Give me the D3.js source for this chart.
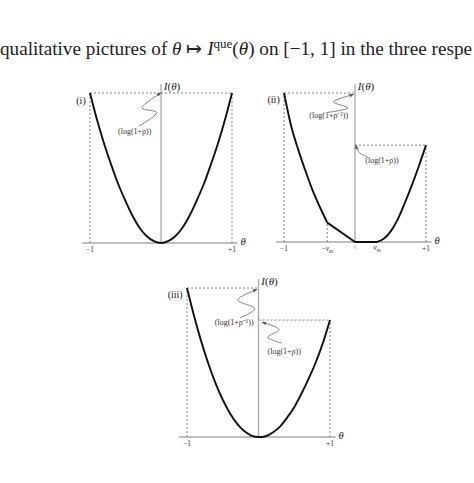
<!DOCTYPE html>
<html>
<head>
<meta charset="utf-8">
<script src="https://cdn.jsdelivr.net/npm/d3@7"></script>
<style>
  body { margin: 0; background: #fff; }
  text { font-family: 'Liberation Serif', serif; }
</style>
</head>
<body>
<div id="graph"></div>
<script>
// values (theta on [-1,1], I scaled so the top dashed level is 1)
const thetaA = [-1, -0.9, -0.8, -0.7, -0.6, -0.5, -0.4, -0.3, -0.2, -0.1, 0, 0.1, 0.2, 0.3, 0.4, 0.5, 0.6, 0.7, 0.8, 0.9, 1]
const valuesA = [1, 0.82, 0.66, 0.52, 0.39, 0.28, 0.18, 0.1, 0.045, 0.012, 0, 0.012, 0.045, 0.1, 0.18, 0.28, 0.39, 0.52, 0.66, 0.82, 1]

const thetaB = [-1, -0.9, -0.8, -0.7, -0.6, -0.5, -0.39, 0, 0.31, 0.4, 0.5, 0.6, 0.7, 0.8, 0.9, 1]
const valuesB = [1, 0.78, 0.62, 0.48, 0.35, 0.24, 0.13, 0, 0, 0.02, 0.07, 0.15, 0.26, 0.38, 0.51, 0.65]
const vm = [-0.39, 0.31]

const thetaC = [-1, -0.9, -0.8, -0.7, -0.6, -0.5, -0.4, -0.3, -0.2, -0.1, 0, 0.05, 0.1, 0.2, 0.3, 0.4, 0.5, 0.6, 0.7, 0.8, 0.9, 1]
const valuesC = [1, 0.81, 0.64, 0.49, 0.36, 0.25, 0.16, 0.09, 0.04, 0.01, 0, 0, 0.005, 0.03, 0.07, 0.13, 0.2, 0.29, 0.39, 0.5, 0.63, 0.785]

const tickLabels = ['\u22121', '+1']
const panelLabels = ['(i)', '(ii)', '(iii)']

// squiggly pointers: [theta, I] points, last one is the arrow tip
const notes = [
  { panel: 0, text: '(log(1+\u03C1))', at: [-0.37, 0.73], path: [[-0.31, 0.78], [-0.06, 0.87], [-0.27, 0.9], [0, 1]] },
  { panel: 1, text: '(log(1+\u03C1\u207B\u00B9))', at: [-0.37, 0.83], path: [[-0.38, 0.87], [-0.1, 0.9], [-0.3, 0.94], [-0.02, 0.99]] },
  { panel: 1, text: '(log(1+\u03C1))', at: [0.38, 0.53], path: [[0.18, 0.57], [0.06, 0.6], [0.01, 0.65]] },
  { panel: 2, text: '(log(1+\u03C1\u207B\u00B9))', at: [-0.34, 0.75], path: [[-0.26, 0.8], [-0.05, 0.86], [-0.29, 0.92], [-0.02, 0.99]] },
  { panel: 2, text: '(log(1+\u03C1))', at: [0.36, 0.56], path: [[0.33, 0.63], [0.13, 0.67], [0.29, 0.72], [0.05, 0.77]] }
]

const width = 474
const height = 483

// straight pieces of each curve (index ranges drawn linearly)
const panels = [
  { x: [90, 232], y: [243, 93], theta: thetaA, vals: valuesA, straight: [] },
  { x: [284, 426], y: [242, 93], theta: thetaB, vals: valuesB, straight: [[6, 8]] },
  { x: [187, 330], y: [437, 288], theta: thetaC, vals: valuesC, straight: [] }
]

const svg = d3.select('#graph').append('svg')
  .attr('width', width)
  .attr('height', height)

svg.append('defs').append('marker')
  .attr('id', 'tip')
  .attr('viewBox', '0 -5 10 10')
  .attr('refX', 9)
  .attr('markerWidth', 5)
  .attr('markerHeight', 5)
  .attr('orient', 'auto')
  .append('path')
  .attr('d', 'M0,-4L10,0L0,4')
  .attr('fill', '#555')

// caption line, cut off at the right edge like the scan
const cap = svg.append('text')
  .attr('x', 0)
  .attr('y', 55)
  .attr('font-size', 19.2)
  .attr('fill', '#222')
cap.append('tspan').text('qualitative pictures of ')
cap.append('tspan').attr('font-style', 'italic').text('\u03B8')
cap.append('tspan').text(' \u21A6 ')
cap.append('tspan').attr('font-style', 'italic').text('I')
cap.append('tspan').attr('font-size', 13).attr('dy', -7).text('que')
cap.append('tspan').attr('dy', 7).text('(')
cap.append('tspan').attr('font-style', 'italic').text('\u03B8')
cap.append('tspan').text(') on [\u22121, 1] in the three respe')

panels.forEach((p, i) => {
  const x = d3.scaleLinear().domain([-1, 1]).range(p.x)
  const y = d3.scaleLinear().domain([0, 1]).range(p.y)
  const g = svg.append('g')

  // axes
  g.append('line')
    .attr('x1', x(-1.11)).attr('x2', x(1.08))
    .attr('y1', y(0)).attr('y2', y(0))
    .attr('stroke', '#aaa').attr('stroke-width', 1.3)
  g.append('line')
    .attr('x1', x(0)).attr('x2', x(0))
    .attr('y1', y(0)).attr('y2', y(1.06))
    .attr('stroke', '#aaa').attr('stroke-width', 1.3)

  // dashed guides
  const last = p.vals[p.vals.length - 1]
  const dash = (x1, y1, x2, y2) => g.append('line')
    .attr('x1', x1).attr('y1', y1).attr('x2', x2).attr('y2', y2)
    .attr('stroke', '#777').attr('stroke-width', 0.9)
    .attr('stroke-dasharray', '2,2')
  dash(x(-1), y(0), x(-1), y(p.vals[0]))
  dash(x(1), y(0), x(1), y(last))
  dash(x(-1), y(1), x(0), y(1))
  if (i === 0) dash(x(0), y(1), x(1), y(1))
  else dash(x(0), y(last), x(1), y(last))
  if (i === 1) {
    const k = p.theta.indexOf(vm[0])
    dash(x(vm[0]), y(0), x(vm[0]), y(p.vals[k]))
  }

  // the curve, split into smooth and straight pieces
  const pts = p.theta.map((t, j) => [t, p.vals[j]])
  const smooth = d3.line().x((d) => x(d[0])).y((d) => y(d[1])).curve(d3.curveMonotoneX)
  const flat = d3.line().x((d) => x(d[0])).y((d) => y(d[1]))
  const pieces = []
  let start = 0
  p.straight.forEach(([a, b]) => {
    pieces.push({ d: pts.slice(start, a + 1), gen: smooth })
    pieces.push({ d: pts.slice(a, b + 1), gen: flat })
    start = b
  })
  pieces.push({ d: pts.slice(start), gen: smooth })
  g.append('path')
    .attr('d', pieces.map((s) => s.gen(s.d)).join(''))
    .attr('fill', 'none')
    .attr('stroke', '#111')
    .attr('stroke-width', 1.9)
    .attr('stroke-linejoin', 'round')

  // tick labels
  g.selectAll('.tk').data([-1, 1]).join('text')
    .attr('x', (d) => x(d))
    .attr('y', y(0) + 8.5)
    .attr('text-anchor', 'middle')
    .attr('font-size', 7.5)
    .attr('fill', '#333')
    .text((d, j) => tickLabels[j])
  if (i === 1) {
    const a = g.append('text').attr('x', x(vm[0])).attr('y', y(0) + 9)
      .attr('text-anchor', 'middle').attr('font-size', 7.5).attr('fill', '#333')
    a.append('tspan').text('\u2212')
    a.append('tspan').attr('font-style', 'italic').text('v')
    a.append('tspan').attr('font-size', 5.5).attr('dy', 1.5).attr('font-style', 'italic').text('m')
    const b = g.append('text').attr('x', x(vm[1])).attr('y', y(0) + 8)
      .attr('text-anchor', 'middle').attr('font-size', 7.5).attr('fill', '#333')
    b.append('tspan').attr('font-style', 'italic').text('v')
    b.append('tspan').attr('font-size', 5.5).attr('dy', 1.5).attr('font-style', 'italic').text('m')
    g.append('line')
      .attr('x1', x(0)).attr('x2', x(0))
      .attr('y1', y(0) + 3).attr('y2', y(0) + 7)
      .attr('stroke', '#888').attr('stroke-width', 0.6)
  }

  // axis names
  g.append('text')
    .attr('x', x(1.12)).attr('y', y(0) + 2)
    .attr('font-size', 10.5).attr('font-style', 'italic').attr('fill', '#222')
    .text('\u03B8')
  g.append('text')
    .attr('x', x(0.04)).attr('y', y(1.02))
    .attr('font-size', 11).attr('fill', '#222')
    .html('<tspan font-style="italic">I</tspan>(<tspan font-style="italic">\u03B8</tspan>)')
  g.append('text')
    .attr('x', x(-1.06)).attr('y', y(0.93))
    .attr('text-anchor', 'end')
    .attr('font-size', 10).attr('fill', '#222')
    .text(panelLabels[i])

  // pointers
  notes.filter((n) => n.panel === i).forEach((n) => {
    g.append('path')
      .attr('d', d3.line().x((d) => x(d[0])).y((d) => y(d[1])).curve(d3.curveCatmullRom)(n.path))
      .attr('fill', 'none')
      .attr('stroke', '#777')
      .attr('stroke-width', 0.9)
      .attr('marker-end', 'url(#tip)')
    g.append('text')
      .attr('x', x(n.at[0])).attr('y', y(n.at[1]))
      .attr('text-anchor', 'middle')
      .attr('font-size', 8).attr('fill', '#333')
      .text(n.text)
  })
})
</script>
</body>
</html>
